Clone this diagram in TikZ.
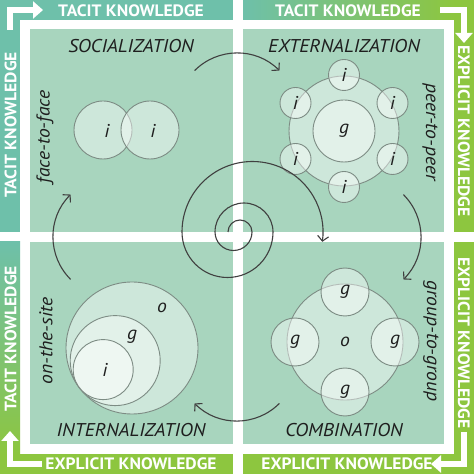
\documentclass[tikz,border=0pt]{standalone}
\usepackage{fontspec}
\setmainfont{PT Sans}[FakeStretch=1.06]
\usetikzlibrary{arrows.meta,calc}
\definecolor{teal0}{RGB}{110,192,170}
\definecolor{grn0}{RGB}{141,198,63}
\definecolor{quad}{RGB}{168,213,190}
\definecolor{ring}{RGB}{125,140,132}
\definecolor{ink}{RGB}{30,30,30}
\begin{document}
\begin{tikzpicture}[x=1pt,y=1pt,
  bandtext/.style={inner sep=0pt, text=white, font=\bfseries\fontsize{16.5}{17}\selectfont},
  qlabel/.style={inner sep=0pt, text=ink, font=\itshape\fontsize{18.5}{19}\selectfont},
  circ/.style={circle, draw=ring, line width=0.9pt, fill=white, fill opacity=0.43, text opacity=1, inner sep=0pt, font=\itshape\fontsize{18.5}{19}\selectfont, text=ink},
  lbl/.style={inner sep=0pt, text=ink, font=\itshape\fontsize{18.5}{19}\selectfont},
  wflow/.style={draw=white, line width=6pt, line join=miter, -{Triangle[length=10pt,width=17pt]}},
  turn/.style={draw=ink!85, line width=1.1pt, -{Straight Barb[length=5pt,width=11pt]}}
]
\useasboundingbox (0,0) rectangle (474,474);
\fill[white] (0,0) rectangle (474,474);
% bands
\fill[teal0] (0,242) rectangle (20,474);
\fill[teal0] (20,454) rectangle (233,474);
\shade[left color=teal0, right color=grn0] (243,454) rectangle (454,474);
\fill[grn0] (454,454) rectangle (474,474);
\fill[grn0] (454,242) rectangle (474,454);
\fill[grn0] (454,0) rectangle (474,232);
\fill[grn0] (0,0) rectangle (233,20);
\fill[grn0] (243,0) rectangle (454,20);
\shade[top color=teal0, bottom color=grn0] (0,20) rectangle (20,232);
% quadrants
\fill[quad] (30,242) rectangle (233,445);
\fill[quad] (243,242) rectangle (444,445);
\fill[quad] (30,30) rectangle (233,232);
\fill[quad] (243,30) rectangle (444,232);
% white corner arrows
\coordinate (tlA) at (10,444); \coordinate (tlB) at (10,464); \coordinate (tlC) at (43,464);
\draw[wflow] (tlA) -- (tlB) -- (tlC);
\coordinate (trA) at (440,464); \coordinate (trB) at (464,464); \coordinate (trC) at (464,431);
\draw[wflow] (trA) -- (trB) -- (trC);
\coordinate (brA) at (464,42); \coordinate (brB) at (464,10); \coordinate (brC) at (431,10);
\draw[wflow] (brA) -- (brB) -- (brC);
\coordinate (blA) at (42,10); \coordinate (blB) at (10,10); \coordinate (blC) at (10,43);
\draw[wflow] (blA) -- (blB) -- (blC);
% band texts
\node[bandtext] (t1) at (131,463) {TACIT KNOWLEDGE};
\node[bandtext] (t2) at (348,463) {TACIT KNOWLEDGE};
\node[bandtext, rotate=90] (t3) at (10.5,349) {TACIT KNOWLEDGE};
\node[bandtext, rotate=90] (t4) at (10.5,135) {TACIT KNOWLEDGE};
\node[bandtext, rotate=-90] (e1) at (464,343) {EXPLICIT KNOWLEDGE};
\node[bandtext, rotate=-90] (e2) at (464,131) {EXPLICIT KNOWLEDGE};
\node[bandtext] (e3) at (131,10) {EXPLICIT KNOWLEDGE};
\node[bandtext] (e4) at (347,10) {EXPLICIT KNOWLEDGE};
% quadrant labels
\node[qlabel] (soc) at (131,428) {SOCIALIZATION};
\node[qlabel] (ext) at (344,428) {EXTERNALIZATION};
\node[qlabel] (int) at (131,44) {INTERNALIZATION};
\node[qlabel] (com) at (344,44) {COMBINATION};
\node[qlabel, rotate=90] (f2f) at (45,337) {face-to-face};
\node[qlabel, rotate=-90] (p2p) at (430,342) {peer-to-peer};
\node[qlabel, rotate=90] (ots) at (46,133) {on-the-site};
\node[qlabel, rotate=-90] (g2g) at (431,133) {group-to-group};
% socialization
\node[circ, minimum size=58pt] (s1) at (103,344) {};
\node[circ, minimum size=58pt] (s2) at (150,344) {};
\node[lbl] (s1l) at (107,343) {i};
\node[lbl] (s2l) at (153,343) {i};
% externalization
\node[circ, minimum size=110pt] (eo) at (344,343) {};
\node[circ, minimum size=62pt] (eg) at (344,343) {g};
\foreach \a [count=\k] in {90,30,-30,-90,-150,150}
  \node[circ, minimum size=31pt] (ei\k) at ($(344,343)+(\a:56)$) {i};
% internalization
\node[circ, minimum size=132pt] (io) at (132,126) {};
\node[circ, minimum size=90pt] (ig) at (115.2,113.4) {};
\node[circ, minimum size=60pt] (ii) at (103.2,104.4) {};
\node[lbl] (iol) at (162,166) {o};
\node[lbl] (igl) at (132,137) {g};
\node[lbl] (iil) at (105,104) {i};
% combination
\node[circ, minimum size=116pt] (co) at (345,132) {o};
\node[circ, minimum size=48pt] (cg1) at (345,182) {g};
\node[circ, minimum size=48pt] (cg2) at (295,132) {g};
\node[circ, minimum size=48pt] (cg3) at (395,132) {g};
\node[circ, minimum size=48pt] (cg4) at (345,82) {g};
% cycle arrows
\coordinate (aT) at (194.6,403.4);
\coordinate (aR) at (403.4,279.4);
\coordinate (aB) at (279.4,70.6);
\coordinate (aL) at (70.6,194.6);
\draw[turn] (aT) arc[start angle=135, end angle=45, radius=60];
\draw[turn] (aR) arc[start angle=45, end angle=-45, radius=60];
\draw[turn] (aB) arc[start angle=-45, end angle=-135, radius=60];
\draw[turn] (aL) arc[start angle=225, end angle=135, radius=60];
% spiral
\coordinate (sp0) at (228,242);
\draw[turn] (sp0) arc[start angle=180, end angle=0, radius=12]
  arc[start angle=0, end angle=-180, radius=18.5]
  arc[start angle=180, end angle=0, radius=29]
  arc[start angle=0, end angle=-180, radius=45.5]
  arc[start angle=180, end angle=-8, radius=70.5];
\end{tikzpicture}
\end{document}
